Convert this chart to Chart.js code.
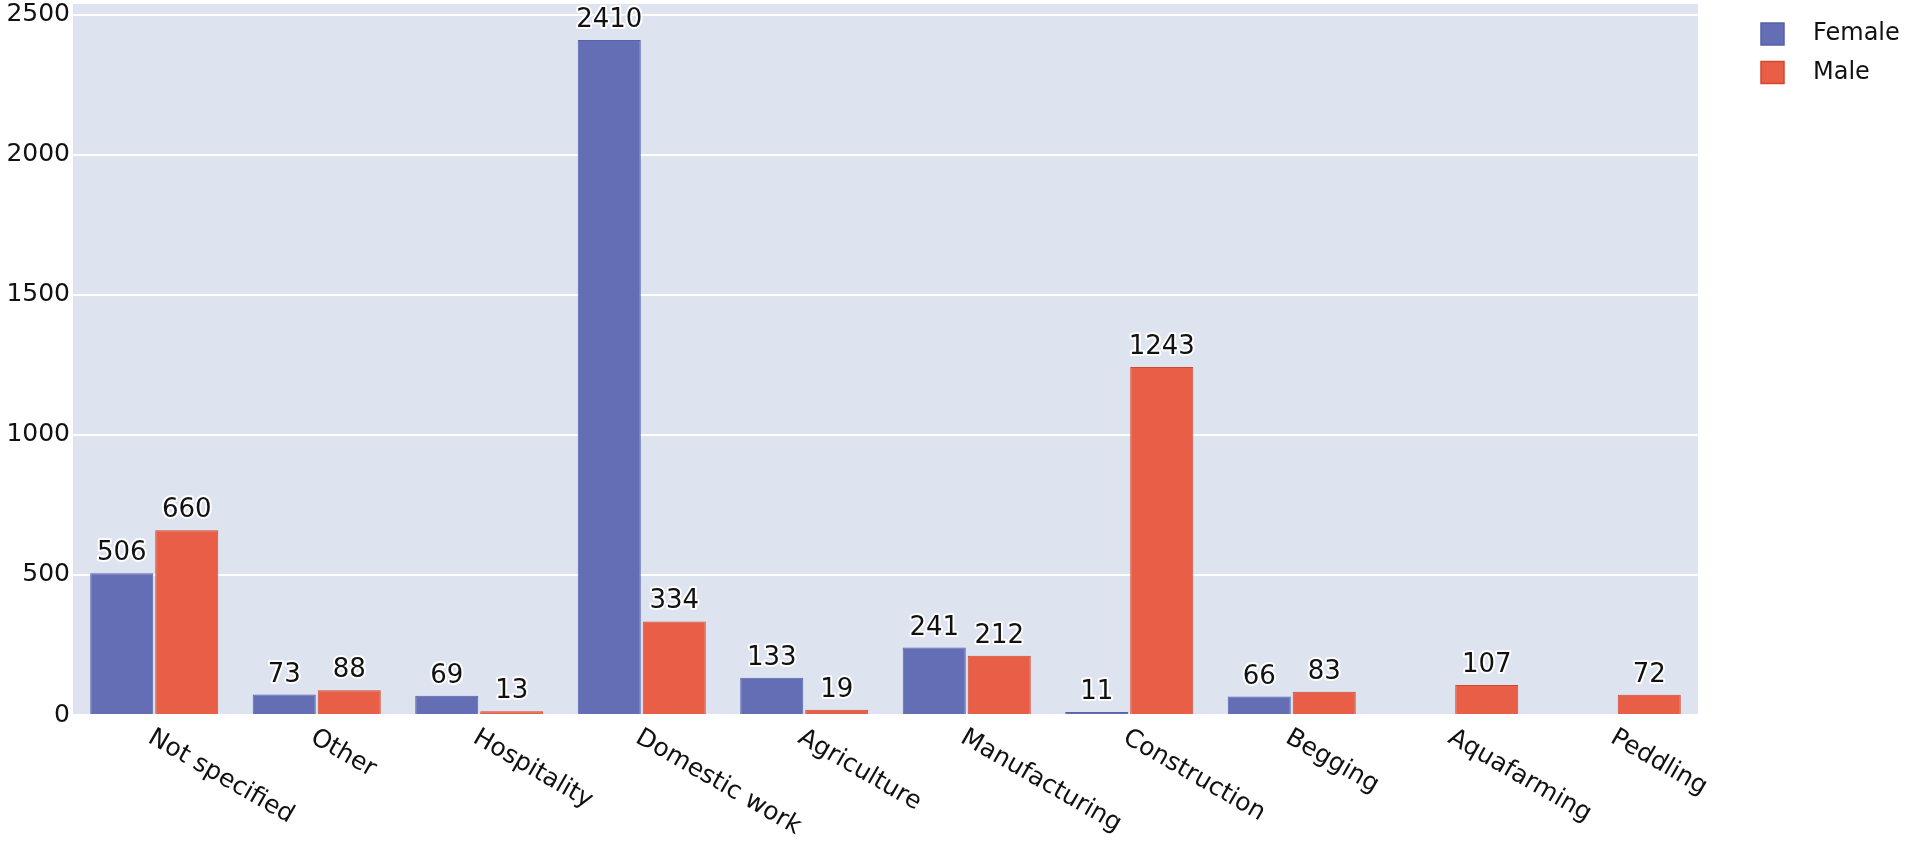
<!DOCTYPE html>
<html>
<head>
<meta charset="utf-8">
<script src="https://cdn.jsdelivr.net/npm/chart.js@4.4.1/dist/chart.umd.min.js"></script>
<style>
html,body{margin:0;padding:0;background:#fff;overflow:hidden;}
canvas{display:block;}
</style>
</head>
<body>
<canvas id="c" width="1905" height="842"></canvas>
<script>
const categories = ["Not specified","Other","Hospitality","Domestic work","Agriculture","Manufacturing","Construction","Begging","Aquafarming","Peddling"];
const femaleValues = [506, 73, 69, 2410, 133, 241, 11, 66, null, null];
const maleValues = [660, 88, 13, 334, 19, 212, 1243, 83, 107, 72];
const yTicks = [0, 500, 1000, 1500, 2000, 2500];
const seriesNames = ["Female", "Male"];

const FONT = "'DejaVu Sans', Verdana, sans-serif";
const fillColors = ["#636EB4", "#E85E46"];
const edgeColors = ["#5661A9", "#D2482F"];

const bgPlugin = {
  id: 'bg',
  beforeDraw(chart) {
    const {ctx, chartArea: a} = chart;
    ctx.save();
    ctx.fillStyle = '#DDE4EF';
    ctx.fillRect(a.left, a.top, a.right - a.left, a.bottom - a.top);
    ctx.restore();
  }
};

const labelPlugin = {
  id: 'labels',
  afterDatasetsDraw(chart) {
    const ctx = chart.ctx;
    ctx.save();
    ctx.font = '26px ' + FONT;
    ctx.textAlign = 'center';
    ctx.textBaseline = 'alphabetic';
    ctx.lineJoin = 'round';
    chart.data.datasets.forEach((ds, di) => {
      const meta = chart.getDatasetMeta(di);
      meta.data.forEach((el, i) => {
        const v = ds.data[i];
        if (v === null || v === undefined) return;
        const t = String(v);
        ctx.strokeStyle = 'rgba(255,255,255,0.95)';
        ctx.lineWidth = 4;
        ctx.strokeText(t, el.x, el.y - 13);
        ctx.fillStyle = '#111';
        ctx.fillText(t, el.x, el.y - 13);
      });
    });
    ctx.restore();
  },
  afterDraw(chart) {
    const ctx = chart.ctx;
    const xs = chart.scales.x;
    const a = chart.chartArea;
    ctx.save();
    ctx.font = '25px ' + FONT;
    ctx.fillStyle = '#111';
    ctx.textAlign = 'left';
    ctx.textBaseline = 'top';
    categories.forEach((c, i) => {
      const cx = xs.getPixelForValue(i);
      ctx.save();
      ctx.translate(cx + 2, a.bottom + 10);
      ctx.rotate(30 * Math.PI / 180);
      ctx.fillText(c, 0, 0);
      ctx.restore();
    });
    // legend
    ctx.font = '24px ' + FONT;
    ctx.textBaseline = 'middle';
    seriesNames.forEach((n, i) => {
      const cy = 34 + i * 38.5;
      ctx.fillStyle = fillColors[i];
      ctx.fillRect(1761, cy - 11, 23, 22);
      ctx.strokeStyle = edgeColors[i];
      ctx.lineWidth = 1.5;
      ctx.strokeRect(1761, cy - 11, 23, 22);
      ctx.fillStyle = '#111';
      ctx.fillText(n, 1813, cy);
    });
    ctx.restore();
  }
};

new Chart(document.getElementById('c'), {
  type: 'bar',
  data: {
    labels: categories,
    datasets: seriesNames.map((n, i) => ({
      label: n,
      data: i === 0 ? femaleValues : maleValues,
      backgroundColor: fillColors[i],
      borderColor: edgeColors[i],
      borderWidth: 1,
      categoryPercentage: 0.8,
      barPercentage: 0.97
    }))
  },
  options: {
    responsive: false,
    animation: false,
    devicePixelRatio: 1,
    layout: { padding: { top: 4, right: 207, left: 0, bottom: 0 } },
    plugins: { legend: { display: false }, tooltip: { enabled: false } },
    scales: {
      x: {
        grid: { display: false },
        border: { display: false },
        ticks: { display: false },
        afterFit(s) { s.height = 127; s.paddingLeft = 0; s.paddingRight = 0; }
      },
      y: {
        min: 0,
        max: 2539,
        afterBuildTicks(s) { s.ticks = yTicks.map(v => ({ value: v })); },
        ticks: { font: { family: FONT, size: 25 }, color: '#111', padding: 3, callback: v => String(v) },
        grid: { color: '#ffffff', lineWidth: 2, drawTicks: false },
        border: { display: false },
        afterFit(s) { s.width = 73; s.paddingTop = 0; s.paddingBottom = 0; }
      }
    }
  },
  plugins: [bgPlugin, labelPlugin]
});
</script>
</body>
</html>
